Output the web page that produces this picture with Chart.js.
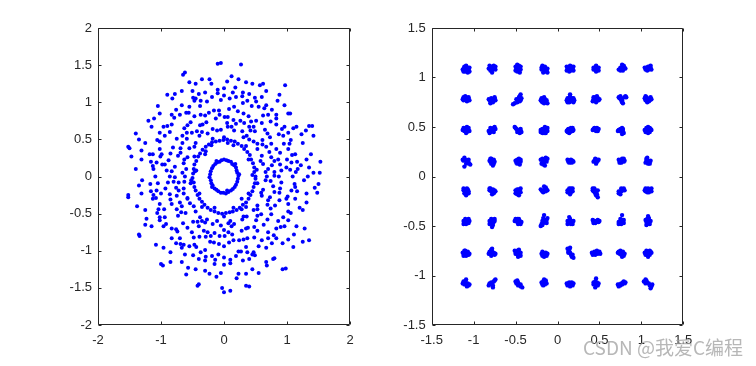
<!DOCTYPE html>
<html>
<head>
<meta charset="utf-8">
<script src="https://cdn.jsdelivr.net/npm/chart.js@4/dist/chart.umd.min.js"></script>
<style>
html,body{margin:0;padding:0;background:#fff;width:756px;height:366px;overflow:hidden;}
canvas{position:absolute;top:0;}
#wm{position:absolute;left:583px;top:337px;font-family:"Noto Sans CJK SC",sans-serif;font-size:19px;line-height:19px;color:rgba(165,165,165,0.8);white-space:nowrap;}
</style>
</head>
<body>
<canvas id="c1" width="378" height="366" style="left:0"></canvas>
<canvas id="c2" width="378" height="366" style="left:378px"></canvas>
<div id="wm">CSDN @我爱C编程</div>
<script>
// Left panel: received symbols (rings)
const leftXTicks = [-2, -1, 0, 1, 2];
const leftYTicks = [-2, -1.5, -1, -0.5, 0, 0.5, 1, 1.5, 2];
const ring1 = [[0.23,0.01],[0.21,0.05],[0.20,0.08],[0.19,0.12],[0.16,0.15],[0.13,0.17],[0.11,0.20],[0.07,0.21],[0.04,0.22],[0.00,0.23],[-0.04,0.22],[-0.07,0.20],[-0.11,0.19],[-0.14,0.17],[-0.17,0.14],[-0.19,0.11],[-0.21,0.07],[-0.22,0.03],[-0.23,-0.01],[-0.21,-0.05],[-0.20,-0.09],[-0.18,-0.12],[-0.15,-0.16],[-0.12,-0.18],[-0.09,-0.20],[-0.05,-0.22],[-0.01,-0.22],[0.03,-0.23],[0.07,-0.21],[0.11,-0.19],[0.14,-0.17],[0.17,-0.14],[0.19,-0.11],[0.21,-0.07],[0.22,-0.03],[0.24,0.03],[-0.12,0.21],[0.18,0.17],[-0.19,-0.14],[0.05,-0.19]];
const ring2 = [[0.50,0.00],[0.48,0.06],[0.48,0.12],[0.46,0.18],[0.43,0.23],[0.41,0.29],[0.37,0.33],[0.32,0.37],[0.28,0.41],[0.22,0.44],[0.17,0.47],[0.11,0.48],[0.05,0.50],[-0.01,0.49],[-0.07,0.48],[-0.13,0.47],[-0.19,0.46],[-0.24,0.43],[-0.29,0.40],[-0.34,0.36],[-0.38,0.31],[-0.41,0.27],[-0.44,0.21],[-0.47,0.16],[-0.48,0.10],[-0.49,0.04],[-0.50,-0.02],[-0.48,-0.08],[-0.47,-0.14],[-0.45,-0.19],[-0.42,-0.25],[-0.39,-0.30],[-0.35,-0.34],[-0.31,-0.38],[-0.26,-0.42],[-0.21,-0.45],[-0.15,-0.47],[-0.09,-0.49],[-0.03,-0.50],[0.03,-0.49],[0.09,-0.48],[0.14,-0.47],[0.20,-0.45],[0.25,-0.42],[0.30,-0.38],[0.35,-0.35],[0.39,-0.30],[0.42,-0.25],[0.45,-0.20],[0.47,-0.14],[0.49,-0.09],[0.50,-0.03],[0.45,0.02],[-0.46,0.07],[-0.20,0.42],[0.28,-0.44],[-0.52,-0.05],[0.06,0.45],
  [0.52,0.09],[0.39,0.23],[0.35,0.41],[0.15,0.42],[-0.18,0.51],[-0.29,0.34],[-0.47,0.27],[-0.44,0.08],[-0.53,-0.09],[-0.39,-0.23],[-0.35,-0.41],[-0.15,-0.42],[0.00,-0.54],[0.15,-0.42],[0.35,-0.41],[0.39,-0.23],[0.53,-0.09],[0.00,0.53]];
const ring3 = [[0.66,0.06],[0.62,0.17],[0.60,0.28],[0.53,0.37],[0.47,0.47],[0.36,0.55],[0.29,0.61],[0.16,0.62],[0.06,0.67],[-0.05,0.63],[-0.18,0.64],[-0.26,0.58],[-0.39,0.55],[-0.45,0.45],[-0.55,0.38],[-0.58,0.26],[-0.64,0.18],[-0.66,0.05],[-0.63,-0.07],[-0.64,-0.16],[-0.58,-0.29],[-0.54,-0.36],[-0.45,-0.47],[-0.38,-0.55],[-0.27,-0.58],[-0.18,-0.64],[-0.05,-0.66],[0.07,-0.63],[0.16,-0.64],[0.29,-0.58],[0.36,-0.54],[0.47,-0.45],[0.53,-0.39],[0.60,-0.26],[0.62,-0.18],[0.66,-0.05],[0.40,0.50],[-0.60,0.10],[0.10,-0.60],[-0.30,-0.62],
  [0.68,0.00],[0.58,0.21],[0.53,0.44],[0.31,0.53],[0.12,0.67],[-0.11,0.62],[-0.35,0.60],[-0.47,0.40],[-0.63,0.23],[-0.62,0.00],[-0.64,-0.23],[-0.48,-0.40],[-0.35,-0.60],[-0.11,-0.60],[0.12,-0.67],[0.31,-0.54],[0.53,-0.44],[0.59,-0.22]];
const ring4 = [[0.80,0.01],[0.76,0.15],[0.75,0.26],[0.67,0.40],[0.61,0.49],[0.49,0.61],[0.40,0.67],[0.26,0.75],[0.15,0.76],[0.01,0.80],[-0.13,0.78],[-0.28,0.73],[-0.38,0.69],[-0.51,0.59],[-0.59,0.51],[-0.69,0.38],[-0.73,0.28],[-0.78,0.13],[-0.78,-0.01],[-0.76,-0.15],[-0.75,-0.26],[-0.67,-0.40],[-0.61,-0.49],[-0.49,-0.61],[-0.40,-0.67],[-0.26,-0.75],[-0.15,-0.76],[0.01,-0.80],[0.13,-0.78],[0.28,-0.73],[0.38,-0.69],[0.51,-0.59],[0.59,-0.51],[0.69,-0.38],[0.73,-0.28],[0.78,-0.13],[0.72,0.33],[0.32,0.72],[-0.34,0.70],[-0.66,0.45],[-0.70,-0.35],[-0.32,-0.73],[0.35,-0.70],[0.70,-0.32],[-0.80,-0.07],[0.06,0.80],[0.80,0.06],[-0.07,-0.80],
  [0.80,0.21],[0.61,0.43],[0.47,0.67],[0.19,0.71],[-0.07,0.83],[-0.43,0.61],[-0.59,0.59],[-0.69,0.32],[-0.83,0.07],[-0.72,-0.19],[-0.68,-0.48],[-0.42,-0.61],[-0.21,-0.80],[0.07,-0.75],[0.48,-0.68],[0.53,-0.53],[0.80,-0.21],[0.74,-0.06]];
const ring5 = [[0.91,0.08],[0.86,0.23],[0.83,0.37],[0.73,0.53],[0.65,0.63],[0.51,0.75],[0.39,0.81],[0.22,0.88],[0.08,0.91],[-0.08,0.89],[-0.24,0.86],[-0.37,0.83],[-0.53,0.73],[-0.63,0.65],[-0.75,0.51],[-0.81,0.39],[-0.88,0.22],[-0.91,0.08],[-0.89,-0.08],[-0.86,-0.24],[-0.83,-0.37],[-0.73,-0.53],[-0.65,-0.63],[-0.51,-0.75],[-0.39,-0.81],[-0.22,-0.88],[-0.08,-0.91],[0.08,-0.89],[0.24,-0.86],[0.37,-0.83],[0.53,-0.73],[0.63,-0.65],[0.75,-0.51],[0.81,-0.39],[0.88,-0.22],[0.91,-0.08],[0.89,0.16],[0.69,0.58],[0.31,0.85],[-0.58,0.69],[-0.85,0.31],[-0.85,-0.31],[-0.58,-0.69],[-0.16,-0.89],[0.31,-0.85],[0.69,-0.58],[0.89,-0.16],[-0.16,0.89],
  [0.89,0.32],[0.75,0.44],[0.60,0.72],[0.43,0.74],[0.16,0.94],[-0.30,0.82],[-0.47,0.81],[-0.66,0.55],[-0.94,0.16],[-0.86,0.00],[-0.93,-0.16],[-0.75,-0.44],[-0.48,-0.82],[-0.29,-0.81],[0.00,-0.94],[0.15,-0.86],[0.48,-0.82],[0.74,-0.43],[0.88,-0.32],[0.87,0.00]];
const ring6 = [[1.09,0.00],[1.07,0.19],[1.02,0.37],[0.94,0.55],[0.83,0.70],[0.70,0.83],[0.55,0.94],[0.37,1.02],[0.19,1.07],[0.00,1.09],[-0.19,1.07],[-0.37,1.02],[-0.55,0.94],[-0.70,0.83],[-0.83,0.70],[-0.94,0.55],[-1.02,0.37],[-1.07,0.19],[-1.09,0.00],[-1.07,-0.19],[-1.02,-0.37],[-0.94,-0.55],[-0.83,-0.70],[-0.70,-0.83],[-0.55,-0.94],[-0.37,-1.02],[-0.19,-1.07],[0.00,-1.09],[0.19,-1.07],[0.37,-1.02],[0.55,-0.94],[0.70,-0.83],[0.83,-0.70],[0.94,-0.55],[1.02,-0.37],[1.07,-0.19],[1.05,0.09],[1.08,0.29],[0.95,0.44],[0.92,0.64],[0.74,0.74],[0.64,0.92],[0.44,0.95],[0.29,1.08],[0.09,1.05],[-0.10,1.12],[-0.27,1.01],[-0.47,1.02],[-0.60,0.86],[-0.79,0.79],[-0.86,0.60],[-1.02,0.47],[-1.01,0.27],[-1.12,0.10],[-1.05,-0.09],[-1.08,-0.29],[-0.95,-0.44],[-0.92,-0.64],[-0.74,-0.74],[-0.64,-0.92],[-0.44,-0.95],[-0.29,-1.08],[-0.09,-1.05],[0.10,-1.12],[0.27,-1.01],[0.47,-1.02],[0.60,-0.86],[0.79,-0.79],[0.86,-0.60],[1.02,-0.47],[1.01,-0.27],[1.12,-0.10],
  [1.14,0.06],[1.00,0.23],[1.04,0.44],[0.87,0.57],[0.83,0.78],[0.62,0.82],[0.51,1.01],[0.30,0.99],[0.14,1.13],[-0.05,1.03],[-0.45,1.05],[-0.56,0.86],[-0.90,0.68],[-0.99,0.30],[-1.13,0.14],[-1.00,-0.23],[-1.04,-0.44],[-0.76,-0.71],[-0.69,-0.91],[-0.47,-0.92],[-0.14,-1.12],[0.23,-1.01],[0.45,-1.05],[0.70,-0.75],[0.90,-0.68],[0.99,-0.30],[1.13,-0.14],[-0.30,-0.99]];
const ring7 = [[1.17,0.10],[1.06,0.49],[0.96,0.67],[0.67,0.96],[0.30,1.13],[-0.10,1.17],[-0.49,1.06],[-0.67,0.96],[-0.96,0.67],[-1.13,0.30],[-1.17,-0.10],[-1.06,-0.49],[-0.96,-0.67],[-0.67,-0.96],[-0.30,-1.13],[0.10,-1.17],[0.49,-1.06],[0.67,-0.96],[0.96,-0.67],[1.13,-0.30],[1.13,0.30],[0.49,1.06],[-0.30,1.13],[-1.06,0.49],[-1.13,-0.30],[-0.49,-1.06],[0.30,-1.13],[1.06,-0.49],[0.83,0.83],[-0.83,0.83],[-0.83,-0.83],[0.83,-0.83],
  [1.16,0.20],[1.02,0.59],[0.76,0.90],[0.40,1.11],[0.00,1.19],[-0.40,1.11],[-0.76,0.90],[-1.02,0.59],[-1.16,0.20],[-1.16,-0.20],[-1.02,-0.59],[-0.76,-0.90],[-0.40,-1.11],[0.00,-1.19],[0.40,-1.11],[0.76,-0.90],[1.02,-0.59],[1.16,-0.20]];
const ring8 = [[1.33,0.00],[1.31,0.23],[1.15,0.67],[1.02,0.85],[0.85,1.02],[0.67,1.15],[0.23,1.31],[-0.23,1.31],[-0.45,1.25],[-0.67,1.15],[-1.02,0.85],[-1.15,0.67],[-1.31,0.23],[-1.31,-0.23],[-1.25,-0.45],[-1.15,-0.67],[-0.85,-1.02],[-0.67,-1.15],[-0.23,-1.31],[0.23,-1.31],[0.45,-1.25],[0.67,-1.15],[1.02,-0.85],[1.15,-0.67],[1.31,-0.23],[1.25,0.45],[0.45,1.25],[-1.25,0.45],[-0.45,-1.25],[1.25,-0.45],
  [1.35,0.12],[1.23,0.57],[0.96,0.96],[0.57,1.23],[0.12,1.35],[-0.35,1.31],[-0.78,1.11],[-1.11,0.78],[-1.31,0.35],[-1.35,-0.12],[-1.23,-0.57],[-0.96,-0.96],[-0.57,-1.23],[-0.12,-1.35],[0.35,-1.31],[0.78,-1.11],[1.11,-0.78],[1.31,-0.35]];
const ring9 = [[1.52,0.05],[1.53,0.20],[1.50,-0.10],[1.48,-0.22],[-1.52,0.40],[-1.50,0.38],[-1.47,0.27],[-1.52,-0.25],[-1.52,-0.28],[-0.10,1.52],[-0.05,1.53],[0.27,1.51],[0.00,-1.56],[0.10,-1.54],[-0.03,-1.50],[0.35,-1.47],[0.40,-1.48],[-0.42,-1.47],[-0.40,-1.45],[-0.62,1.40],[-0.65,1.37],[1.35,0.68],[1.40,0.68],[-1.35,-0.78],[-1.34,-0.80],[1.35,-0.86],[-0.97,-1.20],[-1.00,-1.18],[0.93,-1.25],[0.98,-1.24],[-1.40,0.58],[1.42,0.55]];
const leftScatter = [[1.22,0.15],[1.27,-0.05],[1.20,-0.42],[1.38,0.30],[1.44,-0.15],[1.30,0.62],[1.05,0.85],[0.88,1.10],[0.62,1.25],[0.35,1.27],[0.05,1.28],[-0.20,1.25],[-0.55,1.27],[-0.82,1.05],[-1.05,0.95],[-1.20,0.75],[-1.35,0.50],[-1.40,0.10],[-1.30,-0.05],[-1.38,-0.40],[-1.25,-0.65],[-1.08,-0.92],[-0.85,-1.15],[-0.60,-1.32],[-0.30,-1.27],[-0.05,-1.30],[0.20,-1.37],[0.55,-1.30],[0.80,-1.10],[1.10,-0.95],[1.28,-0.70],[0.97,1.23],[-0.90,1.10],[-1.18,0.30],[1.42,0.05],[1.25,-0.88],[-1.02,-0.55],[-0.98,0.16],[0.99,0.12],[0.60,1.07],[-0.62,-1.05],[0.35,-0.95],[-0.38,0.95],[0.42,0.62],[-0.58,-0.30],[0.28,-0.30],[-0.30,0.30],[0.70,0.10],[-0.72,-0.08],[0.05,0.72],[0.00,-0.72],[0.93,-0.90],[-0.50,1.15],[1.10,0.65],[-1.12,-0.25],[0.68,-1.20],[-0.15,-1.18],[0.18,1.20]];

// Right panel: equalized 64-QAM constellation (one array per row of clusters)
const rightTicks = [-1.5, -1, -0.5, 0, 0.5, 1, 1.5];
const row1 = [[-1.09,1.09],[-1.07,1.10],[-1.11,1.11],[-1.08,1.07],[-1.10,1.06],[-1.06,1.08],[-1.12,1.09],[-1.09,1.12],[-1.07,1.05],[-0.78,1.09],[-0.80,1.10],[-0.76,1.12],[-0.77,1.08],[-0.80,1.07],[-0.75,1.10],[-0.78,1.05],[-0.79,1.11],[-0.47,1.09],[-0.46,1.12],[-0.48,1.13],[-0.46,1.07],[-0.48,1.06],[-0.47,1.10],[-0.45,1.05],[-0.49,1.09],[-0.17,1.10],[-0.15,1.11],[-0.18,1.12],[-0.16,1.08],[-0.14,1.06],[-0.13,1.07],[-0.17,1.05],[-0.15,1.09],[0.15,1.09],[0.13,1.10],[0.17,1.11],[0.14,1.08],[0.16,1.07],[0.12,1.09],[0.18,1.09],[0.15,1.12],[0.14,1.06],[0.16,1.10],[0.46,1.09],[0.45,1.10],[0.47,1.08],[0.46,1.12],[0.46,1.06],[0.44,1.09],[0.48,1.09],[0.76,1.08],[0.78,1.07],[0.79,1.09],[0.75,1.10],[0.77,1.13],[0.80,1.10],[0.77,1.09],[1.08,1.09],[1.06,1.10],[1.10,1.11],[1.09,1.08],[1.07,1.07],[1.11,1.10],[1.08,1.11],
  [-1.13,1.08],[-1.05,1.10],[-1.12,1.06],[-1.05,1.06],[-0.82,1.09],[-0.74,1.08],[-0.81,1.12],[-0.74,1.11],[-0.50,1.11],[-0.44,1.08],[-0.50,1.07],[-0.44,1.11],[-0.19,1.10],[-0.12,1.05],[-0.19,1.08],[-0.12,1.09],[0.11,1.11],[0.19,1.11],[0.11,1.07],[0.19,1.07],[0.43,1.10],[0.49,1.10],[0.43,1.08],[0.49,1.07],[0.73,1.08],[0.81,1.09],[0.75,1.07],[0.79,1.12],[1.04,1.10],[1.12,1.08],[1.05,1.08],[1.11,1.12]];
const row2 = [[-1.09,0.78],[-1.11,0.79],[-1.07,0.77],[-1.10,0.81],[-1.08,0.76],[-1.06,0.78],[-1.12,0.77],[-1.09,0.80],[-0.78,0.77],[-0.80,0.76],[-0.76,0.78],[-0.79,0.79],[-0.77,0.75],[-0.75,0.79],[-0.81,0.77],[-0.46,0.78],[-0.45,0.81],[-0.47,0.77],[-0.48,0.75],[-0.46,0.80],[-0.45,0.76],[-0.51,0.74],[-0.44,0.83],[-0.17,0.77],[-0.15,0.78],[-0.18,0.75],[-0.14,0.75],[-0.16,0.80],[-0.19,0.76],[-0.16,0.74],[0.15,0.78],[0.13,0.77],[0.17,0.79],[0.15,0.81],[0.14,0.75],[0.16,0.76],[0.12,0.79],[0.19,0.75],[0.15,0.83],[0.17,0.77],[0.46,0.78],[0.44,0.77],[0.48,0.79],[0.46,0.75],[0.47,0.81],[0.45,0.80],[0.43,0.78],[0.76,0.79],[0.77,0.77],[0.75,0.81],[0.77,0.75],[0.80,0.80],[0.74,0.79],[0.81,0.81],[1.08,0.78],[1.06,0.80],[1.10,0.79],[1.09,0.76],[1.07,0.75],[1.10,0.77],[1.05,0.81],
  [-1.13,0.78],[-1.05,0.77],[-1.12,0.80],[-1.06,0.80],[-0.82,0.78],[-0.74,0.77],[-0.80,0.74],[-0.75,0.80],[-0.49,0.78],[-0.43,0.79],[-0.53,0.73],[-0.44,0.77],[-0.20,0.77],[-0.12,0.74],[-0.19,0.79],[-0.13,0.77],[0.11,0.77],[0.20,0.77],[0.12,0.75],[0.19,0.79],[0.42,0.76],[0.50,0.78],[0.43,0.80],[0.49,0.77],[0.73,0.80],[0.82,0.80],[0.76,0.77],[0.78,0.74],[1.04,0.79],[1.12,0.78],[1.05,0.77],[1.11,0.80]];
const row3 = [[-1.09,0.47],[-1.10,0.49],[-1.08,0.45],[-1.11,0.46],[-1.08,0.50],[-1.09,0.44],[-1.07,0.47],[-0.78,0.47],[-0.80,0.45],[-0.76,0.49],[-0.77,0.46],[-0.79,0.48],[-0.75,0.50],[-0.81,0.44],[-0.46,0.46],[-0.45,0.44],[-0.47,0.47],[-0.49,0.48],[-0.51,0.50],[-0.44,0.46],[-0.16,0.47],[-0.18,0.48],[-0.14,0.46],[-0.17,0.45],[-0.15,0.50],[-0.19,0.46],[-0.13,0.48],[-0.16,0.44],[-0.18,0.44],[-0.14,0.44],[0.15,0.47],[0.13,0.48],[0.17,0.48],[0.15,0.45],[0.14,0.44],[0.16,0.49],[0.12,0.47],[0.18,0.46],[0.45,0.48],[0.43,0.48],[0.47,0.49],[0.46,0.46],[0.44,0.47],[0.48,0.47],[0.76,0.47],[0.74,0.46],[0.77,0.49],[0.78,0.46],[0.79,0.44],[0.72,0.46],[1.08,0.47],[1.06,0.49],[1.10,0.49],[1.07,0.45],[1.10,0.45],[1.08,0.50],[1.08,0.44],
  [-1.13,0.47],[-1.05,0.46],[-1.12,0.49],[-1.06,0.49],[-0.82,0.46],[-0.74,0.48],[-0.80,0.49],[-0.76,0.45],[-0.43,0.45],[-0.48,0.45],[-0.44,0.48],[-0.50,0.49],[-0.20,0.47],[-0.12,0.46],[-0.20,0.45],[-0.12,0.49],[0.11,0.46],[0.19,0.47],[0.12,0.45],[0.18,0.49],[0.42,0.47],[0.49,0.48],[0.44,0.49],[0.48,0.46],[0.75,0.48],[0.77,0.43],[0.73,0.47],[0.78,0.48],[1.04,0.47],[1.12,0.47],[1.05,0.45],[1.11,0.48]];
const row4 = [[-1.10,0.17],[-1.11,0.19],[-1.08,0.15],[-1.06,0.14],[-1.09,0.13],[-1.07,0.16],[-1.11,0.10],[-1.05,0.13],[-0.78,0.16],[-0.79,0.18],[-0.77,0.14],[-0.79,0.13],[-0.76,0.17],[-0.77,0.11],[-0.80,0.15],[-0.47,0.16],[-0.48,0.17],[-0.46,0.14],[-0.48,0.13],[-0.46,0.18],[-0.45,0.12],[-0.16,0.16],[-0.18,0.18],[-0.14,0.19],[-0.16,0.14],[-0.17,0.12],[-0.15,0.11],[-0.15,0.17],[-0.18,0.15],[0.15,0.16],[0.13,0.15],[0.17,0.16],[0.14,0.14],[0.16,0.17],[0.18,0.16],[0.46,0.16],[0.44,0.16],[0.47,0.17],[0.46,0.13],[0.48,0.16],[0.76,0.16],[0.74,0.16],[0.78,0.17],[0.76,0.14],[0.77,0.18],[0.75,0.15],[0.79,0.15],[1.08,0.15],[1.07,0.17],[1.09,0.14],[1.07,0.19],[1.10,0.15],[1.08,0.13],[1.06,0.16],
  [-1.13,0.17],[-1.04,0.12],[-1.12,0.16],[-1.06,0.17],[-0.81,0.16],[-0.75,0.15],[-0.80,0.18],[-0.76,0.13],[-0.50,0.16],[-0.44,0.15],[-0.49,0.14],[-0.44,0.17],[-0.20,0.17],[-0.12,0.18],[-0.19,0.13],[-0.13,0.15],[0.12,0.17],[0.19,0.15],[0.13,0.16],[0.17,0.14],[0.43,0.15],[0.49,0.17],[0.45,0.18],[0.47,0.15],[0.73,0.17],[0.80,0.16],[0.74,0.14],[0.79,0.18],[1.05,0.14],[1.11,0.16],[1.06,0.18],[1.10,0.13]];
const row5 = [[-1.09,-0.15],[-1.08,-0.12],[-1.10,-0.14],[-1.11,-0.17],[-1.08,-0.17],[-1.07,-0.13],[-1.09,-0.19],[-0.78,-0.15],[-0.80,-0.12],[-0.77,-0.13],[-0.76,-0.16],[-0.78,-0.18],[-0.79,-0.15],[-0.75,-0.14],[-0.47,-0.15],[-0.49,-0.16],[-0.46,-0.13],[-0.45,-0.14],[-0.48,-0.18],[-0.46,-0.19],[-0.48,-0.13],[-0.16,-0.14],[-0.18,-0.15],[-0.15,-0.13],[-0.13,-0.13],[-0.16,-0.10],[-0.19,-0.14],[-0.14,-0.15],[0.15,-0.14],[0.14,-0.12],[0.16,-0.12],[0.14,-0.16],[0.16,-0.16],[0.15,-0.18],[0.17,-0.14],[0.13,-0.14],[0.45,-0.14],[0.44,-0.12],[0.46,-0.16],[0.47,-0.18],[0.48,-0.21],[0.45,-0.17],[0.43,-0.15],[0.76,-0.15],[0.77,-0.13],[0.74,-0.16],[0.75,-0.18],[0.78,-0.14],[0.76,-0.12],[1.08,-0.14],[1.06,-0.14],[1.10,-0.14],[1.08,-0.12],[1.07,-0.16],[1.09,-0.16],[1.11,-0.13],[1.05,-0.15],
  [-1.12,-0.14],[-1.06,-0.15],[-1.12,-0.12],[-1.06,-0.17],[-0.81,-0.14],[-0.74,-0.15],[-0.81,-0.12],[-0.76,-0.17],[-0.50,-0.14],[-0.44,-0.16],[-0.50,-0.17],[-0.44,-0.12],[-0.20,-0.13],[-0.12,-0.14],[-0.17,-0.16],[-0.14,-0.11],[0.12,-0.14],[0.18,-0.15],[0.12,-0.16],[0.18,-0.12],[0.42,-0.14],[0.48,-0.14],[0.42,-0.12],[0.46,-0.19],[0.73,-0.15],[0.80,-0.14],[0.73,-0.17],[0.79,-0.12],[1.04,-0.14],[1.12,-0.15],[1.05,-0.12],[1.12,-0.12]];
const row6 = [[-1.09,-0.45],[-1.10,-0.43],[-1.08,-0.47],[-1.11,-0.46],[-1.07,-0.44],[-1.09,-0.48],[-1.06,-0.47],[-0.78,-0.45],[-0.79,-0.43],[-0.77,-0.44],[-0.79,-0.47],[-0.77,-0.49],[-0.78,-0.51],[-0.76,-0.46],[-0.47,-0.45],[-0.48,-0.43],[-0.46,-0.43],[-0.48,-0.46],[-0.46,-0.47],[-0.47,-0.48],[-0.45,-0.45],[-0.49,-0.45],[-0.16,-0.45],[-0.17,-0.42],[-0.15,-0.44],[-0.14,-0.46],[-0.17,-0.47],[-0.18,-0.49],[-0.16,-0.39],[-0.13,-0.44],[-0.18,-0.45],[0.15,-0.43],[0.14,-0.41],[0.16,-0.45],[0.14,-0.47],[0.16,-0.48],[0.17,-0.46],[0.46,-0.45],[0.44,-0.45],[0.48,-0.44],[0.45,-0.47],[0.47,-0.46],[0.43,-0.46],[0.76,-0.45],[0.75,-0.43],[0.77,-0.47],[0.74,-0.47],[0.78,-0.44],[0.77,-0.39],[0.76,-0.48],[1.08,-0.45],[1.07,-0.43],[1.09,-0.47],[1.07,-0.48],[1.09,-0.42],[1.08,-0.40],[1.06,-0.46],
  [-1.12,-0.45],[-1.05,-0.45],[-1.12,-0.48],[-1.06,-0.43],[-0.81,-0.45],[-0.75,-0.45],[-0.81,-0.48],[-0.75,-0.43],[-0.51,-0.45],[-0.43,-0.46],[-0.50,-0.43],[-0.44,-0.48],[-0.19,-0.48],[-0.12,-0.42],[-0.20,-0.50],[-0.13,-0.47],[0.12,-0.45],[0.19,-0.45],[0.12,-0.48],[0.18,-0.48],[0.42,-0.44],[0.50,-0.45],[0.43,-0.47],[0.49,-0.46],[0.73,-0.46],[0.79,-0.47],[0.73,-0.48],[0.79,-0.44],[1.05,-0.44],[1.11,-0.45],[1.06,-0.49],[1.10,-0.48]];
const row7 = [[-1.09,-0.77],[-1.10,-0.75],[-1.08,-0.79],[-1.11,-0.78],[-1.07,-0.76],[-1.09,-0.80],[-1.11,-0.75],[-0.78,-0.76],[-0.79,-0.74],[-0.77,-0.78],[-0.80,-0.78],[-0.76,-0.77],[-0.78,-0.73],[-0.79,-0.80],[-0.47,-0.77],[-0.48,-0.75],[-0.46,-0.79],[-0.49,-0.78],[-0.47,-0.81],[-0.46,-0.74],[-0.16,-0.78],[-0.17,-0.77],[-0.15,-0.79],[-0.16,-0.81],[-0.18,-0.80],[-0.14,-0.77],[0.15,-0.77],[0.14,-0.74],[0.16,-0.79],[0.13,-0.76],[0.17,-0.81],[0.15,-0.72],[0.46,-0.77],[0.44,-0.76],[0.48,-0.78],[0.45,-0.79],[0.47,-0.75],[0.49,-0.77],[0.43,-0.78],[0.76,-0.77],[0.75,-0.75],[0.78,-0.76],[0.76,-0.79],[0.77,-0.81],[0.74,-0.78],[0.79,-0.78],[1.08,-0.77],[1.06,-0.75],[1.10,-0.75],[1.07,-0.79],[1.10,-0.79],[1.08,-0.81],[1.09,-0.77],
  [-1.13,-0.77],[-1.05,-0.78],[-1.12,-0.80],[-1.06,-0.79],[-0.82,-0.78],[-0.74,-0.78],[-0.81,-0.76],[-0.75,-0.79],[-0.51,-0.75],[-0.44,-0.77],[-0.50,-0.78],[-0.44,-0.80],[-0.19,-0.78],[-0.12,-0.78],[-0.18,-0.76],[-0.13,-0.80],[0.12,-0.73],[0.18,-0.79],[0.13,-0.77],[0.19,-0.82],[0.41,-0.77],[0.51,-0.78],[0.42,-0.79],[0.50,-0.76],[0.72,-0.77],[0.80,-0.78],[0.73,-0.76],[0.79,-0.80],[1.04,-0.77],[1.12,-0.77],[1.05,-0.79],[1.11,-0.76]];
const row8 = [[-1.09,-1.08],[-1.10,-1.06],[-1.08,-1.10],[-1.11,-1.09],[-1.07,-1.08],[-1.09,-1.04],[-1.08,-1.11],[-0.78,-1.08],[-0.79,-1.07],[-0.77,-1.10],[-0.80,-1.09],[-0.76,-1.06],[-0.75,-1.05],[-0.47,-1.07],[-0.48,-1.05],[-0.46,-1.09],[-0.44,-1.11],[-0.47,-1.10],[-0.16,-1.08],[-0.17,-1.06],[-0.15,-1.09],[-0.16,-1.04],[-0.17,-1.10],[-0.14,-1.07],[0.15,-1.08],[0.14,-1.07],[0.16,-1.09],[0.15,-1.11],[0.13,-1.08],[0.17,-1.07],[0.46,-1.08],[0.45,-1.06],[0.46,-1.10],[0.45,-1.12],[0.47,-1.07],[0.46,-1.03],[0.76,-1.08],[0.75,-1.10],[0.78,-1.07],[0.77,-1.09],[0.79,-1.06],[0.74,-1.09],[1.07,-1.07],[1.06,-1.05],[1.09,-1.08],[1.10,-1.10],[1.11,-1.13],[1.05,-1.04],
  [-1.13,-1.08],[-1.05,-1.09],[-1.12,-1.06],[-1.06,-1.10],[-0.82,-1.10],[-0.74,-1.04],[-0.81,-1.08],[-0.77,-1.12],[-0.50,-1.06],[-0.44,-1.09],[-0.42,-1.12],[-0.49,-1.08],[-0.19,-1.07],[-0.13,-1.08],[-0.18,-1.09],[-0.14,-1.05],[0.11,-1.08],[0.19,-1.08],[0.12,-1.10],[0.18,-1.10],[0.43,-1.09],[0.49,-1.08],[0.43,-1.07],[0.48,-1.10],[0.72,-1.09],[0.81,-1.07],[0.73,-1.11],[0.80,-1.08],[1.03,-1.06],[1.13,-1.09],[1.05,-1.08],[1.12,-1.11]];

const axisColor = '#262626';
const tickFont = {family: '"Liberation Sans", Arial, sans-serif', size: 13};

const boxPlugin = {
  id: 'matlabBox',
  afterDraw(chart) {
    const ctx = chart.ctx, a = chart.chartArea;
    const xs = chart.scales.x, ys = chart.scales.y;
    const L = Math.round(a.left) + 0.5, R = Math.round(a.right) - 0.5;
    const T = Math.round(a.top) + 0.5, B = Math.round(a.bottom) - 0.5;
    const tl = 3;
    ctx.save();
    ctx.strokeStyle = axisColor;
    ctx.lineWidth = 1;
    ctx.beginPath();
    ctx.rect(L, T, R - L, B - T);
    xs.ticks.forEach(t => {
      const p = Math.round(xs.getPixelForValue(t.value)) + 0.5;
      ctx.moveTo(p, B); ctx.lineTo(p, B - tl);
      ctx.moveTo(p, T); ctx.lineTo(p, T + tl);
    });
    ys.ticks.forEach(t => {
      const p = Math.round(ys.getPixelForValue(t.value)) + 0.5;
      ctx.moveTo(L, p); ctx.lineTo(L + tl, p);
      ctx.moveTo(R, p); ctx.lineTo(R - tl, p);
    });
    ctx.stroke();
    ctx.restore();
  }
};

function makeChart(id, groups, xTicks, yTicks, yWidth, padRight, radius) {
  const pts = [].concat(...groups).map(p => ({x: p[0], y: p[1]}));
  const axis = (ticksArr, isX) => ({
    type: 'linear',
    min: ticksArr[0],
    max: ticksArr[ticksArr.length - 1],
    afterBuildTicks(s) { s.ticks = ticksArr.map(v => ({value: v})); },
    ticks: {color: axisColor, font: tickFont, padding: isX ? 8 : 6, maxRotation: 0, autoSkip: false,
            callback: v => String(v)},
    grid: {display: false, drawTicks: false},
    border: {display: false},
    afterFit(s) { if (isX) s.height = 41; else s.width = yWidth; }
  });
  return new Chart(document.getElementById(id), {
    type: 'scatter',
    data: {datasets: [{data: pts, backgroundColor: '#0000ff', borderWidth: 0, pointRadius: radius, pointHoverRadius: radius}]},
    options: {
      responsive: false, animation: false, events: [],
      layout: {padding: {top: 28, right: padRight, left: 0, bottom: 0}},
      plugins: {legend: {display: false}, tooltip: {enabled: false}},
      scales: {x: axis(xTicks, true), y: axis(yTicks, false)}
    },
    plugins: [boxPlugin]
  });
}

makeChart('c1', [ring1, ring2, ring3, ring4, ring5, ring6, ring7, ring8, ring9, leftScatter], leftXTicks, leftYTicks, 98, 28, 2.0);
makeChart('c2', [row1, row2, row3, row4, row5, row6, row7, row8], rightTicks, rightTicks, 53.7, 72.7, 2.2);
</script>
</body>
</html>
